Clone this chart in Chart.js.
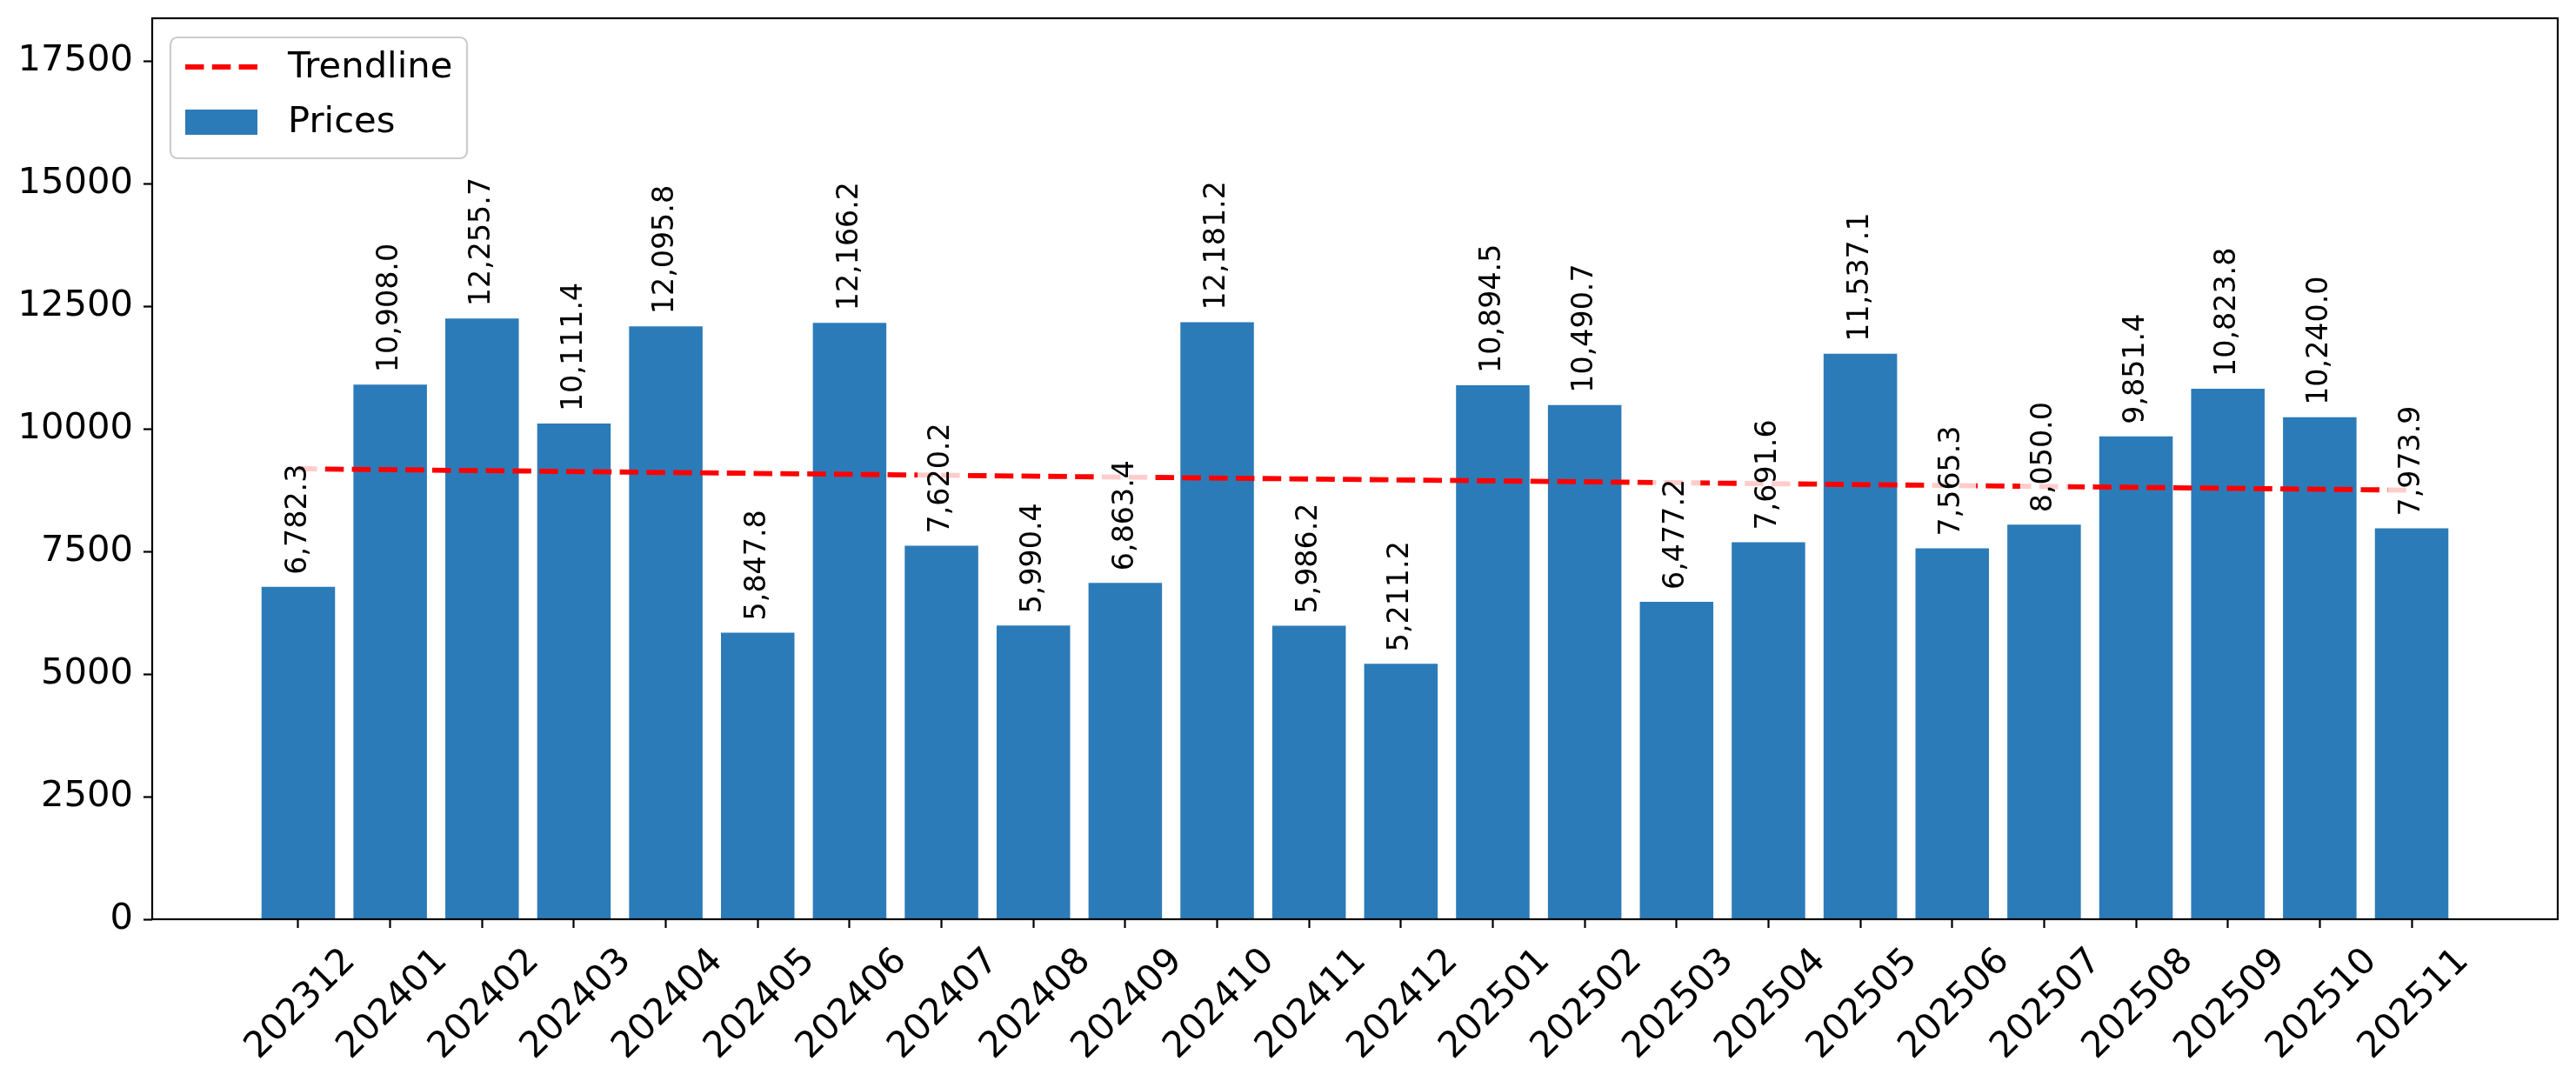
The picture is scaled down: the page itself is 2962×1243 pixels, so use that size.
<!DOCTYPE html>
<html>
<head>
<meta charset="utf-8">
<script src="https://cdn.jsdelivr.net/npm/chart.js@4.4.1/dist/chart.umd.min.js"></script>
<style>
  html, body { margin: 0; padding: 0; background: #ffffff; }
  #wrap { width: 2962px; height: 1243px; }
</style>
</head>
<body>
<div id="wrap"><canvas id="pricesChart" width="2962" height="1243"></canvas></div>
<script>
// data
const months = ['202312','202401','202402','202403','202404','202405','202406','202407',
  '202408','202409','202410','202411','202412','202501','202502','202503',
  '202504','202505','202506','202507','202508','202509','202510','202511'];
const prices = [6782.3, 10908.0, 12255.7, 10111.4, 12095.8, 5847.8, 12166.2, 7620.2,
  5990.4, 6863.4, 12181.2, 5986.2, 5211.2, 10894.5, 10490.7, 6477.2,
  7691.6, 11537.1, 7565.3, 8050.0, 9851.4, 10823.8, 10240.0, 7973.9];
const trendMonths = ['202312', '202511'];
const trendValues = [9190, 8753];
const yTicks = [0, 2500, 5000, 7500, 10000, 12500, 15000, 17500];
const yMax = 18380;

const FONT = "'DejaVu Sans', 'Liberation Sans', sans-serif";
const barColor = '#2c7bb9';
const trendColor = '#ff0000';
const trendDash = [21.5, 9.3];

const fmt = v => v.toLocaleString('en-US', { minimumFractionDigits: 1, maximumFractionDigits: 1 });

const pricesChart = document.getElementById('pricesChart');

// no automatic label padding: the plot box is placed by hand
const noPad = scale => {
  scale.paddingTop = 0;
  scale.paddingBottom = 0;
  scale.paddingLeft = 0;
  scale.paddingRight = 0;
};

// value labels, x labels, spines and legend
const decorations = {
  id: 'decorations',
  afterDatasetsDraw(chart) {
    const ctx = chart.ctx;
    const meta = chart.getDatasetMeta(1);
    const fs = 33.3;
    ctx.save();
    ctx.font = fs + 'px ' + FONT;
    meta.data.forEach((bar, i) => {
      const text = fmt(prices[i]);
      const w = ctx.measureText(text).width;
      const h = fs * 1.17;
      const pad = 8;
      ctx.save();
      ctx.translate(bar.x, bar.y - 14);
      ctx.rotate(-Math.PI / 2);
      ctx.fillStyle = 'rgba(255,255,255,0.8)';
      ctx.beginPath();
      ctx.roundRect(-pad, -h / 2 - pad, w + 2 * pad, h + 2 * pad, 4);
      ctx.fill();
      ctx.fillStyle = '#000';
      ctx.textAlign = 'left';
      ctx.textBaseline = 'middle';
      ctx.fillText(text, 0, 0);
      ctx.restore();
    });
    ctx.restore();
  },
  afterDraw(chart) {
    const ctx = chart.ctx;
    const area = chart.chartArea;
    const xs = chart.scales.x;

    // x tick labels, rotated 45 and centred on the tick
    const fs = 41.7;
    ctx.save();
    ctx.font = fs + 'px ' + FONT;
    ctx.fillStyle = '#000';
    ctx.textAlign = 'center';
    ctx.textBaseline = 'alphabetic';
    months.forEach((m, i) => {
      ctx.save();
      ctx.translate(xs.getPixelForValue(i), area.bottom + 95);
      ctx.rotate(-Math.PI / 4);
      ctx.fillText(m, 0, fs * 0.729 / 2);
      ctx.restore();
    });
    ctx.restore();

    // spines
    ctx.save();
    ctx.strokeStyle = '#000';
    ctx.lineWidth = 2.2;
    ctx.strokeRect(area.left, area.top, area.right - area.left, area.bottom - area.top);
    ctx.restore();

    // legend
    ctx.save();
    ctx.beginPath();
    ctx.roundRect(196, 43, 341, 139, 8);
    ctx.fillStyle = 'rgba(255,255,255,0.8)';
    ctx.fill();
    ctx.strokeStyle = '#cccccc';
    ctx.lineWidth = 2.2;
    ctx.stroke();

    ctx.beginPath();
    ctx.setLineDash(trendDash);
    ctx.strokeStyle = trendColor;
    ctx.lineWidth = 5.8;
    ctx.moveTo(213, 77);
    ctx.lineTo(296, 77);
    ctx.stroke();
    ctx.setLineDash([]);

    ctx.fillStyle = barColor;
    ctx.fillRect(213, 126, 83, 29);

    ctx.fillStyle = '#000';
    ctx.font = fs + 'px ' + FONT;
    ctx.textAlign = 'left';
    ctx.textBaseline = 'middle';
    ctx.fillText('Trendline', 331, 78);
    ctx.fillText('Prices', 331, 141);
    ctx.restore();
  }
};

new Chart(pricesChart, {
  type: 'bar',
  data: {
    datasets: [
      {
        type: 'line',
        label: 'Trendline',
        data: trendMonths.map((m, k) => ({ x: months.indexOf(m), y: trendValues[k] })),
        borderColor: trendColor,
        borderWidth: 5.8,
        borderDash: trendDash,
        pointRadius: 0,
        fill: false,
        tension: 0,
        order: 0
      },
      {
        type: 'bar',
        label: 'Prices',
        data: prices.map((v, i) => ({ x: i, y: v })),
        backgroundColor: barColor,
        borderWidth: 0,
        barPercentage: 0.8,
        categoryPercentage: 1.0,
        order: 1
      }
    ]
  },
  options: {
    responsive: false,
    devicePixelRatio: 1,
    animation: false,
    layout: { padding: { top: 21, right: 21, left: 0, bottom: 0 } },
    plugins: {
      legend: { display: false },
      tooltip: { enabled: false }
    },
    scales: {
      x: {
        type: 'linear',
        min: -1.59,
        max: 24.59,
        offset: false,
        afterBuildTicks: scale => { scale.ticks = months.map((m, i) => ({ value: i })); },
        afterFit: scale => { scale.height = 186; noPad(scale); },
        ticks: { autoSkip: false, maxRotation: 0, callback: () => '' },
        grid: {
          offset: false,
          drawOnChartArea: false,
          drawTicks: true,
          tickLength: 10,
          tickWidth: 2.2,
          tickColor: '#000'
        },
        border: { display: false }
      },
      y: {
        min: 0,
        max: yMax,
        afterBuildTicks: scale => { scale.ticks = yTicks.map(v => ({ value: v })); },
        afterFit: scale => { scale.width = 175; noPad(scale); },
        ticks: {
          color: '#000',
          padding: 12,
          font: { family: FONT, size: 41.7 },
          callback: v => String(v)
        },
        grid: {
          drawOnChartArea: false,
          drawTicks: true,
          tickLength: 10,
          tickWidth: 2.2,
          tickColor: '#000'
        },
        border: { display: false }
      }
    }
  },
  plugins: [decorations]
});
</script>
</body>
</html>
